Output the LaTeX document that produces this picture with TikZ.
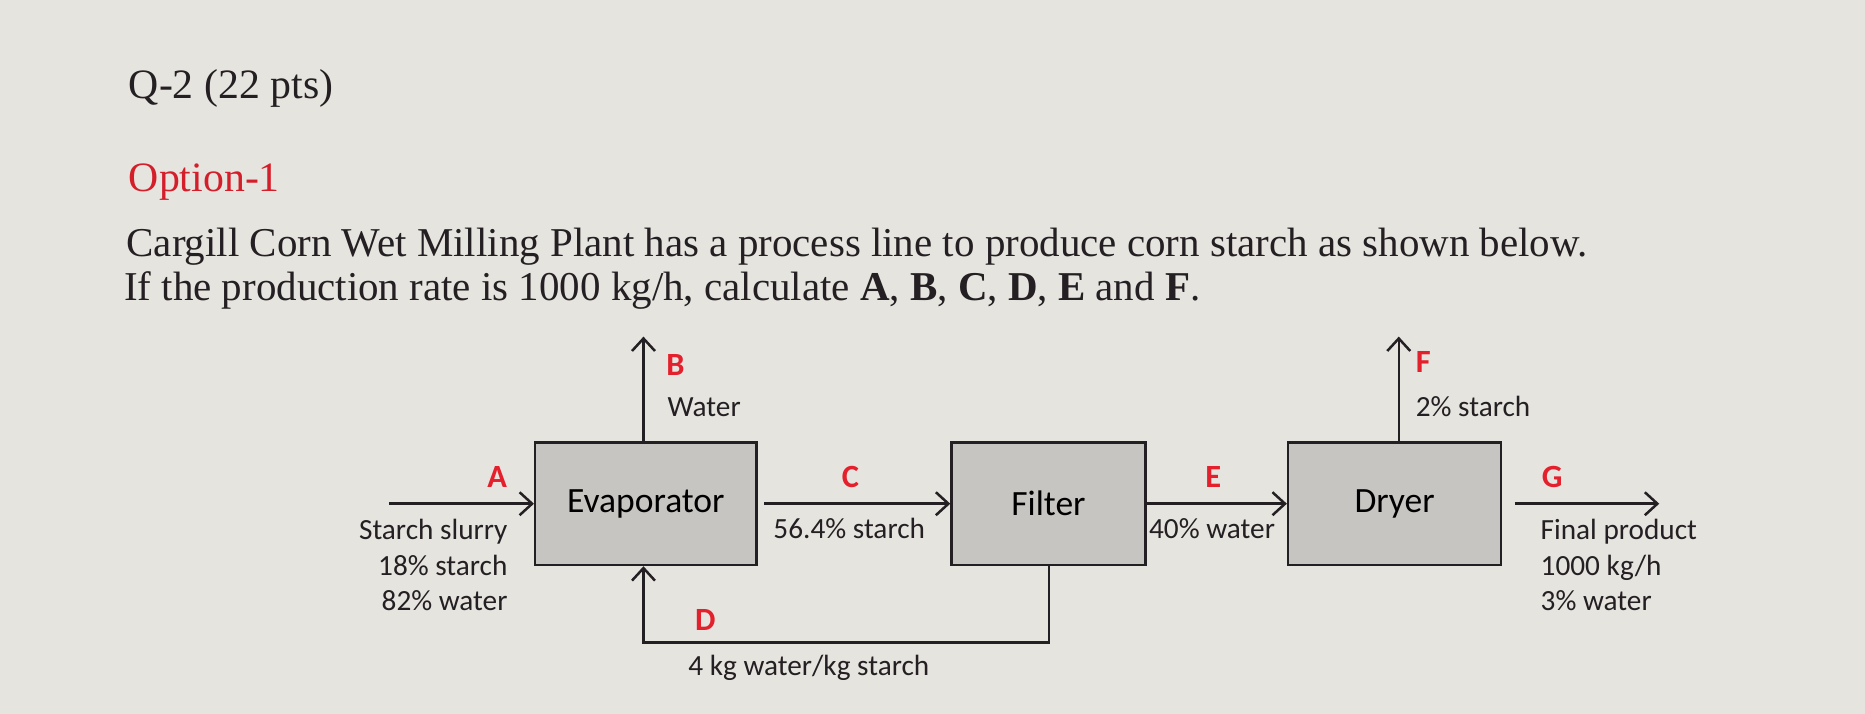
\documentclass[tikz,border=0pt]{standalone}
\usepackage{fontspec}
\setmainfont{Liberation Serif}
\newfontfamily\diagfont{Carlito}
\usetikzlibrary{arrows.meta}
\definecolor{paper}{HTML}{E6E4DF}
\definecolor{boxgray}{HTML}{C7C5C1}
\definecolor{ink}{HTML}{241F22}
\definecolor{labelred}{HTML}{E3202C}
\definecolor{optred}{HTML}{D41F2B}

\begin{document}
\begin{tikzpicture}[x=0.2cm,y=-0.2cm,
    unit/.style={draw=ink,fill=boxgray,line width=1.2pt,minimum height=2.06cm,
        font=\diagfont\fontsize{17}{20}\selectfont},
    flow/.style={ink,line width=1.2pt,-{Straight Barb[length=6pt,width=11pt,line width=1.2pt]}},
    tag/.style={text=labelred,inner sep=0,font=\diagfont\bfseries\fontsize{15.5}{18}\selectfont},
    info/.style={text=ink,inner sep=0,font=\diagfont\fontsize{14}{17}\selectfont},
    question/.style={anchor=base west,inner sep=0,text=ink,font=\fontsize{20}{24}\selectfont}]
    \fill[paper] (0,0) rectangle (156.8,60);

    % question text
    \node[question] (title) at (10.8,8.26) {Q-2 (22 pts)};
    \node[question,text=optred] (option) at (10.8,16.1) {Option-1};
    \node[question,font=\fontsize{19.6}{24}\selectfont] (line1) at (10.6,21.55) {Cargill Corn Wet Milling Plant has a process line to produce corn starch as shown below.};
    \node[question,font=\fontsize{19.6}{24}\selectfont] (line2) at (10.4,25.3) {If the production rate is 1000 kg/h, calculate \textbf{A}, \textbf{B}, \textbf{C}, \textbf{D}, \textbf{E} and \textbf{F}.};

    % process units
    \node[unit,minimum width=3.72cm] (evap) at (54.3,42.35) {Evaporator};
    \node[unit,minimum width=3.26cm] (filter) at (88.15,42.35) {Filter};
    \node[unit,minimum width=3.58cm] (dryer) at (117.25,42.35) {Dryer};

    \coordinate (feed) at (32.7,42.35);
    \coordinate (vapour) at (54.1,28.3);
    \coordinate (fines) at (117.6,28.3);
    \coordinate (product) at (139.5,42.35);
    \coordinate (loop) at (88.2,54);

    % streams
    \draw[flow] (feed) -- (evap.west);
    \draw[flow] (evap.north -| vapour) -- (vapour);
    \draw[flow,shorten <=3pt] (evap.east) -- (filter.west);
    \draw[flow] (filter.east) -- (dryer.west);
    \draw[flow] (dryer.north -| fines) -- (fines);
    \draw[flow,shorten <=6pt] (dryer.east) -- (product);
    \draw[flow] (filter.south -| loop) -- (loop) -- (loop -| vapour) -- (evap.south -| vapour);

    % stream letters
    \node[tag,anchor=base] (tagA) at (41.8,41.0) {A};
    \node[tag,anchor=base west] (tagB) at (56.0,31.6) {B};
    \node[tag,anchor=base] (tagC) at (71.5,41.0) {C};
    \node[tag,anchor=base] (tagD) at (59.3,53.0) {D};
    \node[tag,anchor=base] (tagE) at (102.0,41.0) {E};
    \node[tag,anchor=base west] (tagF) at (119.0,31.3) {F};
    \node[tag,anchor=base] (tagG) at (130.5,41.0) {G};

    % stream data
    \foreach \txt [count=\i] in {Starch slurry,18\% starch,82\% water}
        \node[info,anchor=base east] (feed\i) at (42.7,{42.45+2.95*\i}) {\txt};
    \foreach \txt [count=\i] in {Final product,1000 kg/h,3\% water}
        \node[info,anchor=base west] (prod\i) at (129.5,{42.45+2.95*\i}) {\txt};
    \node[info,anchor=base west] (infoB) at (56.1,35.0) {Water};
    \node[info,anchor=base] (infoC) at (71.4,45.3) {56.4\% starch};
    \node[info,anchor=base] (infoD) at (68.0,56.8) {4 kg water/kg starch};
    \node[info,anchor=base] (infoE) at (101.9,45.3) {40\% water};
    \node[info,anchor=base west] (infoF) at (119.0,35.0) {2\% starch};
\end{tikzpicture}
\end{document}
